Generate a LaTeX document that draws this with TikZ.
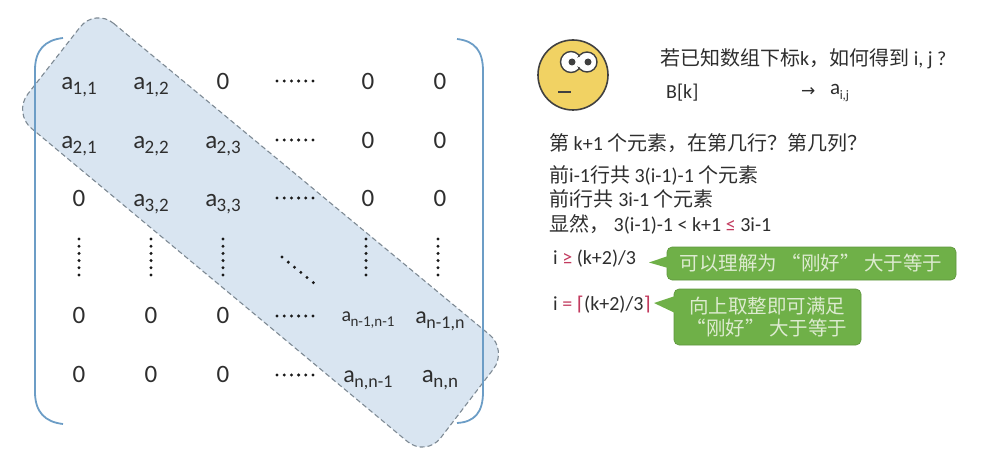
\documentclass[tikz,border=0pt]{standalone}
\usepackage{fontspec}
\setmainfont{Carlito}
\newfontfamily\cjk{Noto Sans CJK SC}
\newfontfamily\djv{DejaVu Sans}
\definecolor{inkc}{HTML}{2E2E2E}
\definecolor{bandc}{HTML}{D9E5F1}
\definecolor{bandl}{HTML}{7E8A94}
\definecolor{brk}{HTML}{6C9DC6}
\definecolor{redc}{HTML}{C23A5E}
\definecolor{greenc}{HTML}{6FB048}
\definecolor{bubtxt}{HTML}{DDEBD0}
\definecolor{yel}{HTML}{F1D263}
\newcommand{\fs}[1]{\fontsize{#1}{#1}\selectfont}
\newcommand{\ael}[3][25]{\fs{#1}a\kern-0.5pt\raisebox{-0.22em}{\fs{\numexpr#1*3/4\relax}#2,#3}}
\tikzset{
  cell/.style={inner sep=0pt,text=inkc,font=\fs{25}},
  txt/.style={inner sep=0pt,anchor=west,text=inkc,font=\fs{20}},
  bubble/.style={fill=greenc,draw=greenc!85!black,line width=.6pt,rounded corners=5pt},
  bubtext/.style={inner sep=0pt,text=bubtxt,align=center,font=\cjk\fs{19.5}},
  bracket/.style={draw=brk,line width=1.8pt},
  hdots/.style={draw=black!90,line width=3.3pt,line cap=round,dash pattern=on 0pt off 7.2pt},
}
\begin{document}
\begin{tikzpicture}[x=1pt,y=-1pt]
\useasboundingbox (0,0) rectangle (985,449);
% band
\draw[fill=bandc,draw=bandl,line width=1.1pt,dash pattern=on 5pt off 3pt,rounded corners=24pt]
  (95,8) -- (508,350) -- (426,457) -- (13,113) -- cycle;
% brackets
\draw[bracket] (63,38) .. controls (45,40) and (35,50) .. (35,70) -- (35,392) .. controls (35,412) and (45,422) .. (63,424);
\draw[bracket] (457,39) .. controls (475,41) and (483,51) .. (483,71) -- (483,392) .. controls (483,412) and (475,422) .. (457,423);
% row 1
\node[cell] (a11) at (79,87) {\ael{1}{1}};
\node[cell] (a12) at (151,87) {\ael{1}{2}};
\node[cell] (a13) at (223,81) {0};
\node[cell] (a15) at (368,81) {0};
\node[cell] (a16) at (440,81) {0};
% row 2
\node[cell] (a21) at (79,146) {\ael{2}{1}};
\node[cell] (a22) at (151,146) {\ael{2}{2}};
\node[cell] (a23) at (223,146) {\ael{2}{3}};
\node[cell] (a25) at (368,140) {0};
\node[cell] (a26) at (440,140) {0};
% row 3
\node[cell] (a31) at (79,198) {0};
\node[cell] (a32) at (151,204) {\ael{3}{2}};
\node[cell] (a33) at (223,204) {\ael{3}{3}};
\node[cell] (a35) at (368,198) {0};
\node[cell] (a36) at (440,198) {0};
% row 5
\node[cell] (a51) at (79,315) {0};
\node[cell] (a52) at (151,315) {0};
\node[cell] (a53) at (223,315) {0};
\node[cell] (a55) at (368,320) {\ael[20]{n-1}{n-1}};
\node[cell] (a56) at (440,321) {\ael[24]{n-1}{n}};
% row 6
\node[cell] (a61) at (79,374) {0};
\node[cell] (a62) at (151,374) {0};
\node[cell] (a63) at (223,374) {0};
\node[cell] (a65) at (368,380) {\ael[24]{n}{n-1}};
\node[cell] (a66) at (440,380) {\ael[25]{n}{n}};
% dots
\foreach \y in {81,140,198,316,375} \draw[hdots] (277,\y) -- (315,\y);
\foreach \x in {79,151,223,366,438} \draw[hdots] (\x,239) -- (\x,275);
\draw[hdots,dash pattern=on 0pt off 8.1pt] (282,257) -- (315,284);
% face
\draw[fill=yel,draw=black!75,line width=1.6pt] (573,75) circle (35);
\draw[fill=white,draw=black!75,line width=1.4pt] (571,62) circle (10.5);
\draw[fill=white,draw=black!75,line width=1.4pt] (587,62) circle (10);
\fill[fill=white] (579,62) circle (5);
\fill[black!75] (572,62) circle (3.5);
\fill[black!75] (588,62) circle (3.5);
\draw[black!75,line width=2pt] (558,92) -- (571,92);
% text right
\node[txt] (q1) at (660,59) {{\cjk 若已知数组下标}k{\cjk ，如何得到} i, j ?};
\node[txt] (bk) at (666,93) {B[k]};
\node[txt,font=\djv\fs{17}] (arr) at (801,92) {→};
\node[txt,font=\fs{21}] (aij) at (830,93) {a\kern-0.5pt\raisebox{-0.22em}{\fs{13}i,j}};
\node[txt] (q2) at (549,143) {{\cjk 第} k+1 {\cjk 个元素，在第几行？第几列？}};
\node[txt] (l1) at (549,175) {{\cjk 前}i-1{\cjk 行共} 3(i-1)-1 {\cjk 个元素}};
\node[txt] (l2) at (549,199) {{\cjk 前}i{\cjk 行共} 3i-1 {\cjk 个元素}};
\node[txt] (l3) at (549,224) {{\cjk 显然，} 3(i-1)-1 < k+1 \textcolor{redc}{≤} 3i-1};
\node[txt] (e1) at (553,259) {i \textcolor{redc}{≥} (k+2)/3};
\node[txt] (e2) at (553,305) {i \textcolor{redc}{=} \textcolor{redc}{\djv\fs{19}⌈}(k+2)/3\textcolor{redc}{\djv\fs{19}⌉}};
% bubbles
\draw[bubble] (667,247) rectangle (956,280);
\fill[greenc] (668,256) -- (649,262.5) -- (668,268) -- cycle;
\node[bubtext] (b1) at (811,263.5) {可以理解为 “刚好” 大于等于};
\draw[bubble] (674,289) rectangle (861,345);
\fill[greenc] (675,296) -- (654,303) -- (675,313) -- cycle;
\node[bubtext] (b2) at (767,317) {向上取整即可满足\\[3pt]“刚好” 大于等于};
\end{tikzpicture}
\end{document}
